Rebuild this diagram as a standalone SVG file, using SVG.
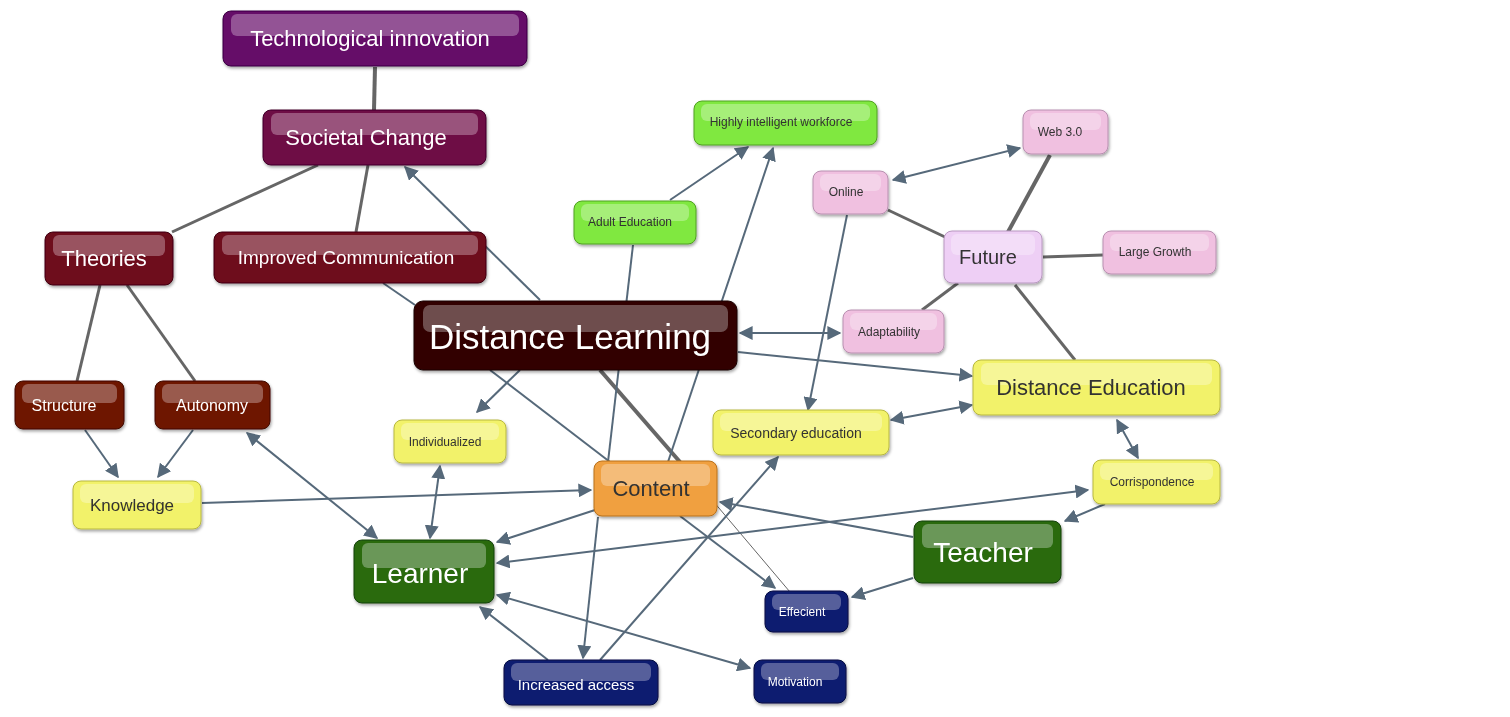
<svg xmlns="http://www.w3.org/2000/svg" width="1510" height="717" viewBox="0 0 1510 717">
<defs>
<style>
text{font-family:"Liberation Sans",Arial,sans-serif;dominant-baseline:central;text-anchor:middle}
.w{fill:#fff}.d{fill:#333}
.hl{fill:#fff;opacity:.3}
.g{stroke:#666;fill:none}
.b{stroke:#56697a;stroke-width:2;fill:none}
.ar{marker-end:url(#a)}.as{marker-start:url(#s)}
</style>
<marker id="a" viewBox="0 0 10 10" refX="9" refY="5" markerWidth="7" markerHeight="7" orient="auto"><path d="M0,0L10,5L0,10z" fill="#56697a"/></marker>
<marker id="s" viewBox="0 0 10 10" refX="1" refY="5" markerWidth="7" markerHeight="7" orient="auto"><path d="M10,0L0,5L10,10z" fill="#56697a"/></marker>
<filter id="sh" x="-10%" y="-10%" width="130%" height="140%"><feDropShadow dx="1" dy="2" stdDeviation="1.5" flood-opacity=".35"/></filter>
</defs>
<rect width="1510" height="717" fill="#fff"/>
<g id="connectors">
<path class="g" stroke-width="4" d="M375,67L374,110"/>
<path class="g" stroke-width="3" d="M318,165L172,232"/>
<path class="g" stroke-width="3" d="M368,165L356,232"/>
<path class="g" stroke-width="3" d="M100,285L77,381"/>
<path class="g" stroke-width="3" d="M127,285L195,381"/>
<path class="g" stroke-width="4" d="M600,370L680,462"/>
<path class="g" stroke-width="1" d="M680,462L790,592"/>
<path class="g" stroke-width="3" d="M888,210L945,237"/>
<path class="g" stroke-width="4" d="M1050,155L1008,232"/>
<path class="g" stroke-width="3" d="M1103,255L1043,257"/>
<path class="g" stroke-width="3" d="M922,310L958,283"/>
<path class="g" stroke-width="3" d="M1015,285L1075,360"/>
<path class="b" d="M383,283L415,305"/>
<path class="b ar" d="M540,300L405,167"/>
<path class="b ar" d="M670,200L748,147"/>
<path class="b" d="M633,245L608,462"/>
<path class="b ar" d="M598,517L583,658"/>
<path class="b ar" d="M668,462L773,148"/>
<path class="b ar as" d="M740,333L840,333"/>
<path class="b ar" d="M738,352L972,376"/>
<path class="b ar" d="M520,370L477,412"/>
<path class="b" d="M490,370L610,462"/>
<path class="b ar" d="M847,215L808,410"/>
<path class="b ar as" d="M893,180L1020,148"/>
<path class="b ar as" d="M891,420L972,405"/>
<path class="b ar as" d="M1117,420L1138,458"/>
<path class="b ar" d="M1105,504L1065,521"/>
<path class="b ar as" d="M497,563L1088,490"/>
<path class="b ar" d="M913,537L720,502"/>
<path class="b ar" d="M913,578L852,597"/>
<path class="b ar" d="M680,516L775,588"/>
<path class="b ar" d="M595,510L497,542"/>
<path class="b ar" d="M202,503L591,490"/>
<path class="b ar" d="M85,430L118,477"/>
<path class="b ar" d="M193,430L158,477"/>
<path class="b ar as" d="M247,433L377,538"/>
<path class="b ar as" d="M440,466L430,538"/>
<path class="b ar as" d="M497,595L750,668"/>
<path class="b ar" d="M548,660L480,607"/>
<path class="b ar" d="M600,660L778,457"/>
</g>
<g id="n1" filter="url(#sh)"><rect x="223" y="11" width="304" height="55" rx="8" fill="#650a68" stroke="#3a0040"/><rect class="hl" x="231" y="14" width="288" height="22" rx="6"/><text x="370" y="38" font-size="22" class="w">Technological innovation</text></g>
<g id="n2" filter="url(#sh)"><rect x="263" y="110" width="223" height="55" rx="8" fill="#6e0a44" stroke="#40002a"/><rect class="hl" x="271" y="113" width="207" height="22" rx="6"/><text x="366" y="137" font-size="22" class="w">Societal Change</text></g>
<g id="n3" filter="url(#sh)"><rect x="45" y="232" width="128" height="53" rx="8" fill="#6e0a1e" stroke="#400010"/><rect class="hl" x="53" y="235" width="112" height="21" rx="6"/><text x="104" y="258" font-size="22" class="w">Theories</text></g>
<g id="n4" filter="url(#sh)"><rect x="214" y="232" width="272" height="51" rx="8" fill="#6e0a1e" stroke="#400010"/><rect class="hl" x="222" y="235" width="256" height="20" rx="6"/><text x="346" y="257" font-size="19" class="w">Improved Communication</text></g>
<g id="n5" filter="url(#sh)"><rect x="414" y="301" width="323" height="69" rx="9" fill="#300000" stroke="#1a0000"/><rect class="hl" x="423" y="305" width="305" height="27" rx="7"/><text x="570" y="336" font-size="35" class="w">Distance Learning</text></g>
<g id="n6" filter="url(#sh)"><rect x="15" y="381" width="109" height="48" rx="8" fill="#6e1400" stroke="#400a00"/><rect class="hl" x="22" y="384" width="95" height="19" rx="6"/><text x="64" y="405" font-size="16" class="w">Structure</text></g>
<g id="n7" filter="url(#sh)"><rect x="155" y="381" width="115" height="48" rx="8" fill="#6e1400" stroke="#400a00"/><rect class="hl" x="162" y="384" width="101" height="19" rx="6"/><text x="212" y="405" font-size="16" class="w">Autonomy</text></g>
<g id="n8" filter="url(#sh)"><rect x="73" y="481" width="128" height="48" rx="8" fill="#f2f26a" stroke="#b8b840"/><rect class="hl" x="80" y="484" width="114" height="19" rx="6"/><text x="132" y="505" font-size="17" class="d">Knowledge</text></g>
<g id="n9" filter="url(#sh)"><rect x="394" y="420" width="112" height="43" rx="8" fill="#f2f26a" stroke="#b8b840"/><rect class="hl" x="401" y="423" width="98" height="17" rx="6"/><text x="445" y="442" font-size="12" class="d">Individualized</text></g>
<g id="n10" filter="url(#sh)"><rect x="594" y="461" width="123" height="55" rx="8" fill="#f0a040" stroke="#b8701a"/><rect class="hl" x="601" y="464" width="109" height="22" rx="6"/><text x="651" y="488" font-size="22" class="d">Content</text></g>
<g id="n11" filter="url(#sh)"><rect x="354" y="540" width="140" height="63" rx="8" fill="#2a6a10" stroke="#144008"/><rect class="hl" x="362" y="543" width="124" height="25" rx="6"/><text x="420" y="573" font-size="28" class="w">Learner</text></g>
<g id="n12" filter="url(#sh)"><rect x="504" y="660" width="154" height="45" rx="8" fill="#0d1a70" stroke="#050a40"/><rect class="hl" x="511" y="663" width="140" height="18" rx="6"/><text x="576" y="684" font-size="15" class="w">Increased access</text></g>
<g id="n13" filter="url(#sh)"><rect x="765" y="591" width="83" height="41" rx="8" fill="#0d1a70" stroke="#050a40"/><rect class="hl" x="772" y="594" width="69" height="16" rx="6"/><text x="802" y="612" font-size="12" class="w">Effecient</text></g>
<g id="n14" filter="url(#sh)"><rect x="754" y="660" width="92" height="43" rx="8" fill="#0d1a70" stroke="#050a40"/><rect class="hl" x="761" y="663" width="78" height="17" rx="6"/><text x="795" y="682" font-size="12" class="w">Motivation</text></g>
<g id="n15" filter="url(#sh)"><rect x="914" y="521" width="147" height="62" rx="8" fill="#2a6a10" stroke="#144008"/><rect class="hl" x="922" y="524" width="131" height="24" rx="6"/><text x="983" y="552" font-size="28" class="w">Teacher</text></g>
<g id="n16" filter="url(#sh)"><rect x="574" y="201" width="122" height="43" rx="8" fill="#80e840" stroke="#50a020"/><rect class="hl" x="581" y="204" width="108" height="17" rx="6"/><text x="630" y="222" font-size="12" class="d">Adult Education</text></g>
<g id="n17" filter="url(#sh)"><rect x="694" y="101" width="183" height="44" rx="8" fill="#80e840" stroke="#50a020"/><rect class="hl" x="701" y="104" width="169" height="17" rx="6"/><text x="781" y="122" font-size="12" class="d">Highly intelligent workforce</text></g>
<g id="n18" filter="url(#sh)"><rect x="813" y="171" width="75" height="43" rx="8" fill="#f0c0e0" stroke="#b890b0"/><rect class="hl" x="820" y="174" width="61" height="17" rx="6"/><text x="846" y="192" font-size="12" class="d">Online</text></g>
<g id="n19" filter="url(#sh)"><rect x="1023" y="110" width="85" height="44" rx="8" fill="#f0c0e0" stroke="#b890b0"/><rect class="hl" x="1030" y="113" width="71" height="17" rx="6"/><text x="1060" y="132" font-size="12" class="d">Web 3.0</text></g>
<g id="n20" filter="url(#sh)"><rect x="944" y="231" width="98" height="52" rx="8" fill="#eecff5" stroke="#b898c0"/><rect class="hl" x="951" y="234" width="84" height="21" rx="6"/><text x="988" y="257" font-size="20" class="d">Future</text></g>
<g id="n21" filter="url(#sh)"><rect x="1103" y="231" width="113" height="43" rx="8" fill="#f0c0e0" stroke="#b890b0"/><rect class="hl" x="1110" y="234" width="99" height="17" rx="6"/><text x="1155" y="252" font-size="12" class="d">Large Growth</text></g>
<g id="n22" filter="url(#sh)"><rect x="843" y="310" width="101" height="43" rx="8" fill="#f0c0e0" stroke="#b890b0"/><rect class="hl" x="850" y="313" width="87" height="17" rx="6"/><text x="889" y="332" font-size="12" class="d">Adaptability</text></g>
<g id="n23" filter="url(#sh)"><rect x="973" y="360" width="247" height="55" rx="8" fill="#f2f26a" stroke="#b8b840"/><rect class="hl" x="981" y="363" width="231" height="22" rx="6"/><text x="1091" y="387" font-size="22" class="d">Distance Education</text></g>
<g id="n24" filter="url(#sh)"><rect x="713" y="410" width="176" height="45" rx="8" fill="#f2f26a" stroke="#b8b840"/><rect class="hl" x="720" y="413" width="162" height="18" rx="6"/><text x="796" y="433" font-size="14" class="d">Secondary education</text></g>
<g id="n25" filter="url(#sh)"><rect x="1093" y="460" width="127" height="44" rx="8" fill="#f2f26a" stroke="#b8b840"/><rect class="hl" x="1100" y="463" width="113" height="17" rx="6"/><text x="1152" y="482" font-size="12" class="d">Corrispondence</text></g>
</svg>
